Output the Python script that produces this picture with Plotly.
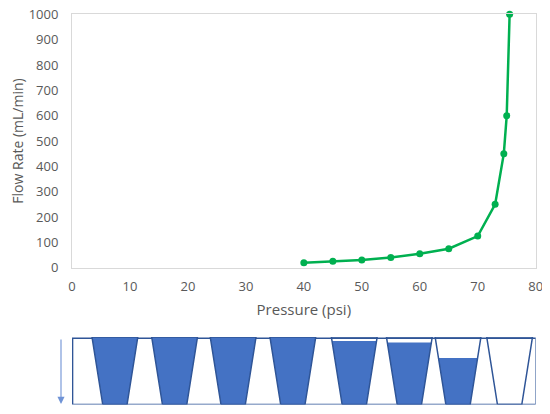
import plotly.graph_objects as go

# flow test data
pressure_psi = [40, 45, 50, 55, 60, 65, 70, 73, 74.5, 75, 75.5]
flow_ml_min = [20, 25, 30, 40, 55, 75, 125, 250, 450, 600, 1000]

# fill level of each cup in the strip below (1 = full, 0 = empty)
cup_fill = [1.0, 1.0, 1.0, 1.0, 0.94, 0.92, 0.69, 0.0]

# cup layout on the strip (same 0-80 scale as the pressure axis)
cup_x = [7.4, 17.7, 27.8, 38.1, 48.7, 58.2, 66.6, 75.5]
TOP_HW = 3.95
BOT_HW = 2.1

GREY = "#595959"
BLUE = "#4472C4"
DARK_BLUE = "#2F5597"
FONT = "Open Sans"

# page body keeps an 8px margin, so the figure is 8px smaller than the window
W, H = 542, 406


def px_x(x):
    return (x - 8) / W


def px_y(y):
    return (414 - y) / H


fig = go.Figure()

fig.add_trace(go.Scatter(
    x=pressure_psi, y=flow_ml_min,
    mode="lines+markers",
    line=dict(color="#00B050", width=2.5),
    marker=dict(color="#00B050", size=7),
    cliponaxis=False,
    showlegend=False,
))


def cup_shape(cx, level):
    hw = BOT_HW + (TOP_HW - BOT_HW) * level
    xs = [cx - BOT_HW, cx + BOT_HW, cx + hw, cx - hw, cx - BOT_HW]
    ys = [0, 0, level, level, 0]
    return xs, ys


for cx, lvl in zip(cup_x, cup_fill):
    if lvl > 0:
        xs, ys = cup_shape(cx, lvl)
        fig.add_trace(go.Scatter(
            x=xs, y=ys, xaxis="x2", yaxis="y2",
            mode="lines", fill="toself", fillcolor=BLUE,
            line=dict(width=0), hoverinfo="skip", showlegend=False,
        ))
    xs, ys = cup_shape(cx, 1.0)
    fig.add_trace(go.Scatter(
        x=xs, y=ys, xaxis="x2", yaxis="y2",
        mode="lines", line=dict(color=DARK_BLUE, width=1.5),
        hoverinfo="skip", showlegend=False,
    ))

# frame round the cups
fig.add_shape(type="rect", xref="x2", yref="y2",
              x0=0.1, x1=80.05, y0=0, y1=0.98,
              line=dict(color=DARK_BLUE, width=1.5), layer="below")

# downward arrow at the left of the strip
fig.add_annotation(
    x=px_x(61), y=px_y(404), ax=0, ay=-66,
    xref="paper", yref="paper",
    text="", showarrow=True, arrowhead=2, arrowsize=1.3,
    arrowwidth=1.1, arrowcolor="#6F93D6",
)

fig.update_layout(
    width=W, height=H,
    margin=dict(l=0, r=0, t=0, b=0),
    paper_bgcolor="white", plot_bgcolor="white",
    font=dict(family=FONT, color=GREY, size=13),
    xaxis=dict(
        domain=[px_x(72), px_x(535.7)], range=[0, 80], dtick=10,
        showgrid=False, zeroline=False, automargin=False,
        showline=True, mirror=True, linecolor="#D9D9D9", linewidth=1,
        ticks="", ticklabelstandoff=7, ticklabeloverflow="allow",
        title=dict(text="Pressure (psi)", font=dict(size=15, color=GREY), standoff=10),
    ),
    yaxis=dict(
        domain=[px_y(267.7), px_y(14.3)], range=[0, 1000], dtick=100,
        showgrid=False, zeroline=False, automargin=False,
        showline=True, mirror=True, linecolor="#D9D9D9", linewidth=1,
        ticks="", ticklabelstandoff=10, ticklabeloverflow="allow",
        title=dict(text="Flow Rate (mL/min)", font=dict(size=14, color=GREY), standoff=7),
    ),
    xaxis2=dict(domain=[px_x(72), px_x(535.7)], range=[0, 80], anchor="y2", visible=False),
    yaxis2=dict(domain=[px_y(404.5), px_y(337)], range=[0, 1], anchor="x2", visible=False),
)

fig.write_html("out.html")
